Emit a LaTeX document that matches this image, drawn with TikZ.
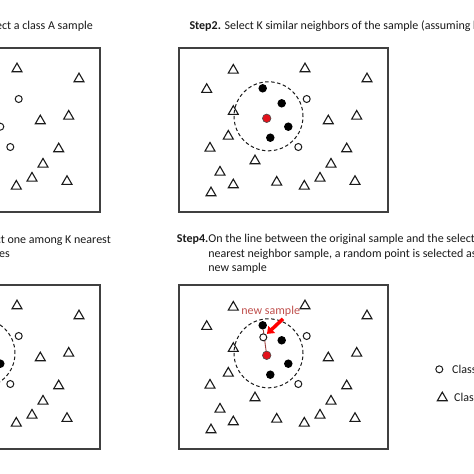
\documentclass[tikz,border=0pt]{standalone}
\usepackage{fontspec}
\setmainfont{Carlito}
\usetikzlibrary{shapes.geometric, arrows.meta}

\definecolor{boxgray}{HTML}{404040}
\definecolor{dotred}{HTML}{E3121B}
\definecolor{labelred}{HTML}{C0504D}
\definecolor{txtgray}{HTML}{1A1A1A}

% the points and the box shared by all four panels
\newcommand{\panelbase}[1]{%
  \node[panelbox] (#1box) at (283.5,130) {};
  \foreach \tx/\ty [count=\i] in {233.3/69, 305/67.7, 367/77.7, 206.7/88.3,
      233.3/110.3, 328.3/119.7, 356.7/115, 228.3/135, 210/147, 346.7/147.7,
      255/159.7, 331/163, 220/171, 233.3/183.7, 276.7/181, 320/177,
      304.3/185, 355/180.3, 211/191.7}
    \node[tri] (#1t\i) at (\tx,\ty) {};
  \node[opendot] (#1o1) at (306.7,99) {};
  \node[opendot] (#1o2) at (298.3,147) {};
}

\begin{document}
\begin{tikzpicture}[
  x=1pt, y=-1pt,
  font=\fontsize{12}{14.5}\selectfont,
  text=txtgray,
  panelbox/.style={draw=boxgray, line width=1.3pt, minimum width=209pt, minimum height=164pt, inner sep=0pt},
  tri/.style={draw=txtgray, line width=1.1pt, regular polygon, regular polygon sides=3, minimum size=11.5pt, inner sep=0pt, yshift=-1.2pt},
  opendot/.style={draw=txtgray, fill=white, line width=1pt, circle, minimum size=7pt, inner sep=0pt},
  blackdot/.style={fill=black, circle, minimum size=8.5pt, inner sep=0pt},
  reddot/.style={draw=black!70, fill=dotred, line width=0.6pt, circle, minimum size=8.5pt, inner sep=0pt},
  hood/.style={draw=txtgray, dashed, dash pattern=on 3.5pt off 2.5pt, line width=1pt, circle, minimum size=69pt, inner sep=0pt},
  title/.style={inner sep=0pt}
]
  \fill[white] (0,0) rectangle (474,474);
  \useasboundingbox (0,0) rectangle (474,474);
  \clip (0,0) rectangle (474,474);

  % Step1
  \node[title, anchor=base east] (title1) at (93,29.5) {\textbf{Step1.} Select a class A sample};
  \begin{scope}[shift={(-288,0)}]
    \panelbase{A}
    \foreach \nx/\ny [count=\i] in {262.7/88.3, 281.7/103.3, 288.3/126.7, 270.3/137.7}
      \node[opendot] (An\i) at (\nx,\ny) {};
    \node[reddot] (Ac) at (266.7,118.3) {};
  \end{scope}

  % Step2
  \node[title, anchor=base west] (title2) at (189.3,29.5) {\textbf{Step2.} Select K similar neighbors of the sample (assuming k=4)};
  \panelbase{B}
  \node[hood] (Bhood) at (268.5,116.3) {};
  \foreach \nx/\ny [count=\i] in {262.7/88.3, 281.7/103.3, 288.3/126.7, 270.3/137.7}
    \node[blackdot] (Bn\i) at (\nx,\ny) {};
  \node[reddot] (Bc) at (266.7,118.3) {};

  % Step3
  \node[title, anchor=base east] (title3a) at (111,243) {\textbf{Step3.} Select one among K nearest};
  \node[title, anchor=base east] (title3b) at (10,257.5) {neighbor samples};
  \begin{scope}[shift={(-288,237)}]
    \panelbase{C}
    \node[hood] (Chood) at (268.5,116.3) {};
    \foreach \nx/\ny [count=\i] in {262.7/88.3, 281.7/103.3, 288.3/126.7, 270.3/137.7}
      \node[blackdot] (Cn\i) at (\nx,\ny) {};
    \node[reddot] (Cc) at (266.7,118.3) {};
  \end{scope}

  % Step4
  \node[title, anchor=base west] (title4) at (176.7,242.5) {\textbf{Step4.}\begin{tabular}[t]{@{}l@{}}On the line between the original sample and the selected\\
    nearest neighbor sample, a random point is selected as\\
    new sample\end{tabular}};
  \begin{scope}[shift={(0,237)}]
    \panelbase{D}
    \node[hood] (Dhood) at (268.5,116.3) {};
    \foreach \nx/\ny [count=\i] in {262.7/88.3, 281.7/103.3, 288.3/126.7, 270.3/137.7}
      \node[blackdot] (Dn\i) at (\nx,\ny) {};
    \node[reddot] (Dc) at (266.7,118.3) {};
    \draw[labelred!80!black, line width=0.9pt] (Dc) -- (Dn1);
    \node[opendot] (Dnew) at (263.3,100.3) {};
    \node[text=labelred, inner sep=0pt] (Dlabel) at (270.7,74.7) {new sample};
    \coordinate (Dtail) at (283,81.8);
    \draw[red, line width=3.5pt, -{Triangle[width=9.5pt,length=6.5pt]}, shorten >=1pt] (Dtail) -- (Dnew);
  \end{scope}

  % legend
  \node[opendot] (legA) at (439.3,369.3) {};
  \node[title, anchor=base west] (legAtext) at (452,373.3) {Class A};
  \node[tri] (legB) at (442.3,396.7) {};
  \node[title, anchor=base west] (legBtext) at (454,401) {Class B};
\end{tikzpicture}
\end{document}
